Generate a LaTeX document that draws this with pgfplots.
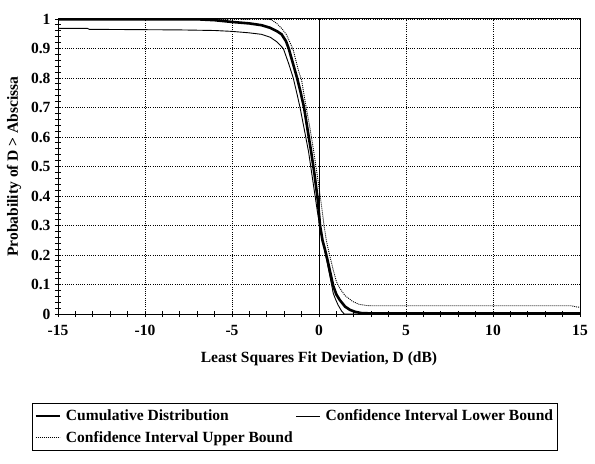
\documentclass[border=0pt]{standalone}
\usepackage{pgfplots}
\pgfplotsset{compat=1.18}
\usepackage{fontspec}
\setmainfont{Liberation Serif}

\pgfplotstableread{
x y
-15 0.999
-7 0.999
-6 0.996
-5 0.990
-4 0.985
-3.3 0.979
-2.8 0.970
-2.4 0.958
-2.15 0.948
-1.9 0.925
-1.74 0.900
-1.5 0.850
-1.26 0.800
-1.05 0.750
-0.86 0.700
-0.67 0.630
-0.45 0.550
-0.25 0.470
-0.07 0.386
0.06 0.300
0.2 0.250
0.35 0.217
0.5 0.180
0.65 0.140
0.82 0.095
1.0 0.066
1.2 0.047
1.5 0.025
1.78 0.014
2.1 0.007
2.45 0.003
3 0.002
15 0.002
}\cumdist

\pgfplotstableread{
x y
-15 0.968
-13.3 0.968
-13.2 0.965
-8 0.963
-6 0.961
-5 0.958
-4 0.953
-3.3 0.948
-2.8 0.938
-2.43 0.923
-2.05 0.900
-1.75 0.850
-1.48 0.800
-1.28 0.750
-1.09 0.700
-0.86 0.630
-0.6 0.550
-0.35 0.450
-0.1 0.350
0.1 0.280
0.38 0.200
0.55 0.150
0.72 0.100
0.82 0.070
0.95 0.050
1.1 0.030
1.3 0.010
1.45 0.000
15 0.000
}\lowerb

\pgfplotstableread{
x y
-15 1.000
-2.9 1.000
-2.72 0.997
-2.43 0.985
-2.1 0.965
-1.86 0.946
-1.48 0.895
-1.19 0.827
-1.0 0.793
-0.81 0.725
-0.52 0.630
-0.3 0.550
-0.1 0.470
0.1 0.386
0.29 0.300
0.42 0.250
0.54 0.217
0.82 0.149
1.0 0.110
1.2 0.087
1.5 0.062
1.95 0.042
2.3 0.033
2.7 0.029
3.0 0.028
14.5 0.028
14.8 0.024
15 0.023
}\upperb

\begin{document}
\begin{tikzpicture}[font=\bfseries\fontsize{15.6}{18}\selectfont]
\path[use as bounding box] (0,0) rectangle (595bp,464bp);
\begin{axis}[
    at={(58bp,150bp)}, anchor=south west,
    width=522bp, height=295bp, scale only axis,
    xmin=-15, xmax=15, ymin=0, ymax=1,
    xtick={-15,-10,-5,0,5,10,15},
    xticklabels={-15,-10,-5,0,5,10,15},
    ytick={0,0.1,0.2,0.3,0.4,0.5,0.6,0.7,0.8,0.9,1},
    yticklabels={0,0.1,0.2,0.3,0.4,0.5,0.6,0.7,0.8,0.9,1},
    minor x tick num=4, minor y tick num=4,
    xtick pos=bottom, ytick pos=left,
    tick align=center,
    major tick length=6bp, minor tick length=6bp,
    every tick/.style={black, line width=0.8bp},
    axis line style={black, line width=1bp},
    grid=major,
    major grid style={black, line width=0.8bp, dash pattern=on 1bp off 1.2bp},
    extra x ticks={0}, extra x tick labels={},
    extra x tick style={major grid style={solid, black, line width=1bp}},
    xticklabel style={yshift=-5bp},
    yticklabel style={xshift=-1bp},
    xlabel={Least Squares Fit Deviation, D (dB)},
    ylabel={Probability of D > Abscissa},
    every axis x label/.style={at={(axis description cs:0.5,-0.152)}, anchor=center},
    every axis y label/.style={at={(axis description cs:-0.084,0.5)}, rotate=90, anchor=center},
    legend columns=2,
    legend cell align=left,
    legend style={at={(axis description cs:-0.0498,-0.3017)}, anchor=north west,
        draw=black, line width=0.8bp, inner xsep=2bp, inner ysep=4.5bp,
        row sep=5bp,
        /tikz/every odd column/.append style={column sep=3bp},
        /tikz/every even column/.append style={column sep=1bp}},
    legend image code/.code={\draw[#1] (0bp,0bp) -- (24bp,0bp);},
]
\addplot[black, line width=2.6bp, no marks] table {\cumdist};
\addlegendentry{Cumulative Distribution}
\addplot[black, line width=0.9bp, no marks] table {\lowerb};
\addlegendentry{Confidence Interval Lower Bound}
\addplot[black, line width=0.9bp, dash pattern=on 1bp off 1bp, no marks] table {\upperb};
\addlegendentry{Confidence Interval Upper Bound}
\end{axis}
\end{tikzpicture}
\end{document}
